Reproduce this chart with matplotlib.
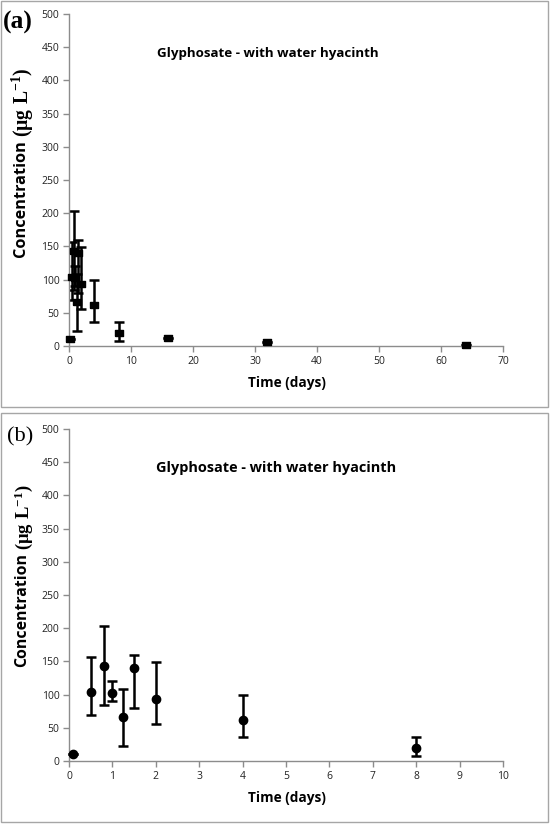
import numpy as np
import matplotlib
matplotlib.use("Agg")
import matplotlib.pyplot as plt
from matplotlib.patches import Rectangle

# Data
time_days = [0.1, 0.5, 0.8, 1.0, 1.25, 1.5, 2, 4, 8, 16, 32, 64]
conc = [10, 104, 143, 103, 67, 140, 93, 62, 19, 12, 6, 2]
err_low = [10, 70, 84, 90, 22, 80, 56, 36, 8, 12, 6, 2]
err_high = [10, 156, 203, 121, 108, 160, 149, 100, 36, 12, 6, 2]

yticks = [0, 50, 100, 150, 200, 250, 300, 350, 400, 450, 500]
xticks_a = [0, 10, 20, 30, 40, 50, 60, 70]
xticks_b = [0, 1, 2, 3, 4, 5, 6, 7, 8, 9, 10]
title = "Glyphosate - with water hyacinth"

plt.rcParams["mathtext.fontset"] = "custom"
plt.rcParams["mathtext.rm"] = "Liberation Serif:bold"
plt.rcParams["mathtext.it"] = "Liberation Serif:bold"
plt.rcParams["mathtext.bf"] = "Liberation Serif:bold"

W, H = 552, 824
fig = plt.figure(figsize=(W / 100, H / 100), dpi=100)

def px(x, y):
    return x / W, 1 - y / H

# panel frames
for top, bot in [(1, 407), (413, 822)]:
    fig.patches.append(Rectangle(px(1, bot), 547 / W, (bot - top) / H,
                                 transform=fig.transFigure, fill=False,
                                 edgecolor="#a6a6a6", lw=1))

yerr = np.array([np.array(conc) - np.array(err_low), np.array(err_high) - np.array(conc)])
rect = [(-1, -0.7), (1, -0.7), (1, 0.7), (-1, 0.7), (-1, -0.7)]


def style_axes(ax, xticks, xmax):
    ax.set_xlim(0, xmax)
    ax.set_ylim(0, 500)
    ax.set_xticks(xticks)
    ax.set_yticks(yticks)
    for s in ["top", "right"]:
        ax.spines[s].set_visible(False)
    for s in ["left", "bottom"]:
        ax.spines[s].set_color("#8c8c8c")
        ax.spines[s].set_linewidth(1)
    ax.tick_params(direction="out", length=4, width=1, color="#8c8c8c",
                   labelsize=7.5, labelcolor="#222222", pad=3)
    for lab in ax.get_xticklabels() + ax.get_yticklabels():
        lab.set_family("Open Sans")


# Panel (a)
ax1 = fig.add_axes([69 / W, 1 - 346 / H, 434 / W, 332 / H])
ax1.errorbar(time_days, conc, yerr=yerr, fmt="none", ecolor="black",
             elinewidth=1.8, capsize=3.5, capthick=1.8)
ax1.plot(time_days, conc, linestyle="none", marker=rect, markersize=5.5,
         color="black", clip_on=False, zorder=3)
style_axes(ax1, xticks_a, 70)

# Panel (b)
ax2 = fig.add_axes([69 / W, 1 - 761 / H, 434 / W, 332 / H])
mask = [t <= 10 for t in time_days]
tb = [t for t, m in zip(time_days, mask) if m]
cb = [c for c, m in zip(conc, mask) if m]
eb = yerr[:, np.array(mask)]
ax2.errorbar(tb, cb, yerr=eb, fmt="o", color="black", markersize=6,
             elinewidth=1.8, capsize=3.5, capthick=1.8, clip_on=False,
             zorder=3)
style_axes(ax2, xticks_b, 10)

renderer = fig.canvas.get_renderer()


def fit_text(s, x0, x1, y0, y1, vertical=False, **kw):
    # size the text so its long side spans the given pixel range, then centre it
    t = fig.text(0, 0, s, ha="center", va="center",
                 rotation=90 if vertical else 0, fontsize=10, **kw)
    bb = t.get_window_extent(renderer)
    if vertical:
        t.set_fontsize(10 * (y1 - y0) / bb.height)
    else:
        t.set_fontsize(10 * (x1 - x0) / bb.width)
    t.set_position(px((x0 + x1) / 2, (y0 + y1) / 2))
    bb = t.get_window_extent(renderer)
    cx, cy = (x0 + x1) / 2, H - (y0 + y1) / 2
    dx, dy = cx - (bb.x0 + bb.x1) / 2, cy - (bb.y0 + bb.y1) / 2
    t.set_position(((cx + dx) / W, (cy + dy) / H))
    return t


sans = dict(fontweight="bold", family="Open Sans")
fit_text(title, 157, 379, 47, 59, **sans)
fit_text(title, 156, 397, 462, 474, **sans)
fit_text("Time (days)", 248, 325, 377, 389, **sans)
fit_text("Time (days)", 248, 325, 792, 804, **sans)

fit_text("Concentration", 15, 28, 140, 257, vertical=True, **sans)
fit_text(r"$\mathrm{(µg\ L^{-1})}$", 14, 31, 67, 137, vertical=True)
fit_text("Concentration", 16, 29, 553, 667, vertical=True, **sans)
fit_text(r"$\mathrm{(µg\ L^{-1})}$", 15, 32, 484, 550, vertical=True)

fit_text("(a)", 3, 33, 13, 32, fontweight="bold", family="Liberation Serif")
fit_text("(b)", 7, 33, 428, 446, family="Liberation Serif")

fig.savefig("out.png", dpi=100)
